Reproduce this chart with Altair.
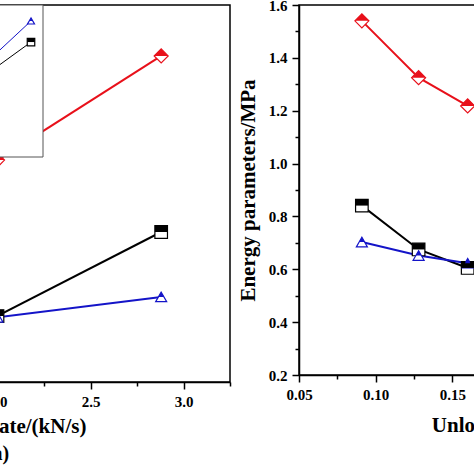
import altair as alt
import pandas as pd

# ---- series definitions -------------------------------------------------
series = ["Input energy", "Elastic energy", "Dissipated energy"]
colors = ["#E8101A", "#000000", "#1414C8"]
full_shapes = ["diamond", "square", "triangle-up"]
# upper halves of the same symbols (unit box -1..1), drawn filled on top
half_shapes = ["M-1,0L0,-1L1,0Z", "M-1,-1L1,-1L1,0L-1,0Z", "M0,-0.866L0.5,0L-0.5,0Z"]
sizes = [196, 121, 169]
inset_sizes = [64, 49, 64]

# ---- panel (a): energy vs loading rate ---------------------------------
load_rate = [2.0, 2.88]
load_input = [1.024, 1.411]
load_elastic = [0.445, 0.757]
load_dissip = [0.440, 0.516]

# inset of panel (a)
inset_rate = [2.0, 2.88]
inset_elastic = [0.637, 0.805]
inset_dissip = [0.700, 0.916]
inset_box = {"x0": [0.5], "x1": [3.12], "y0": [0.2], "y1": [1.0]}

# ---- panel (b): energy vs unloading rate -------------------------------
unload_rate = [0.091, 0.128, 0.160]
unload_input = [1.54, 1.325, 1.218]
unload_elastic = [0.841, 0.675, 0.605]
unload_dissip = [0.703, 0.652, 0.623]

# tick values (major + minor)
y_ticks = [round(0.2 + 0.1 * i, 2) for i in range(15)]
a_ticks = [round(0.75 + 0.25 * i, 2) for i in range(11)]
b_ticks = [round(0.05 + 0.025 * i, 3) for i in range(13)]

FONT = "Liberation Serif"


def long_frame(x, ys, names):
    rows = []
    for name, vals in zip(names, ys):
        for xi, yi in zip(x, vals):
            rows.append({"x": xi, "y": yi, "series": name})
    return pd.DataFrame(rows)


def minor_test(mult):
    return f"abs(datum.value*{mult} - round(datum.value*{mult})) > 0.001"


def axis(title, ticks, mult, fmt, **kw):
    test = minor_test(mult)
    return alt.Axis(
        title=title,
        values=ticks,
        labelExpr=f"{test} ? '' : format(datum.value, '{fmt}')",
        tickSize={"condition": {"test": test, "value": 4}, "value": 7},
        grid=False,
        **kw,
    )


color_scale = alt.Scale(domain=series, range=colors)
full_shape_scale = alt.Scale(domain=series, range=full_shapes)
half_shape_scale = alt.Scale(domain=series, range=half_shapes)


def series_layers(df, xenc, yenc, size_range, line_width):
    base = alt.Chart(df)
    size = alt.Size("series:N", scale=alt.Scale(domain=series, range=size_range), legend=None)
    line = base.mark_line(strokeWidth=line_width).encode(
        x=xenc, y=yenc,
        color=alt.Color("series:N", scale=color_scale, legend=None),
        order="x:Q",
    )
    outline = base.mark_point(filled=True, fill="white", strokeWidth=1.2, opacity=1).encode(
        x=xenc, y=yenc,
        stroke=alt.Stroke("series:N", scale=color_scale, legend=None),
        shape=alt.Shape("series:N", scale=full_shape_scale, legend=None),
        size=size,
    )
    half = base.mark_point(filled=True, strokeWidth=0, opacity=1).encode(
        x=xenc, y=yenc,
        fill=alt.Fill("series:N", scale=color_scale, legend=None),
        shape=alt.Shape("series:N", scale=half_shape_scale, legend=None),
        size=size,
    )
    return alt.layer(line, outline, half).resolve_scale(shape="independent")


caption = dict(orient="bottom", frame="group", fontSize=20, font=FONT,
               fontWeight="bold", offset=8)

# ---- panel (a) ----------------------------------------------------------
a_df = long_frame(load_rate, [load_input, load_elastic, load_dissip], series)
a_x = alt.X("x:Q", scale=alt.Scale(domain=[0.75, 3.25], nice=False, zero=False),
            axis=axis("Loading rate/(kN/s)", a_ticks, 2, ".1f", orient="bottom",
                      titlePadding=6))
a_y = alt.Y("y:Q", scale=alt.Scale(domain=[0.2, 1.6], nice=False, zero=False),
            axis=axis("Energy parameters/MPa", y_ticks, 5, ".1f", orient="left"))
a_main = series_layers(a_df, a_x, a_y, sizes, 2)

in_df = long_frame(inset_rate, [inset_elastic, inset_dissip], series[1:])
in_x_scale = alt.Scale(domain=[0.5, 3.12], range=[147, 278], nice=False, zero=False)
in_y_scale = alt.Scale(domain=[0.2, 1.0], range=[152, 0], nice=False, zero=False)
in_x = alt.X("x:Q", scale=in_x_scale,
             axis=alt.Axis(orient="top", offset=-152, values=[1.0, 1.5, 2.0, 2.5],
                           labels=False, domain=False, tickSize=3, tickColor="#666",
                           tickWidth=1, title=None, grid=False))
in_y = alt.Y("y:Q", scale=in_y_scale, axis=None)
box = alt.Chart(pd.DataFrame(inset_box)).mark_rect(
    fill="white", stroke="#555555", strokeWidth=1
).encode(
    x=alt.X("x0:Q", scale=in_x_scale, axis=None), x2="x1:Q",
    y=alt.Y("y0:Q", scale=in_y_scale, axis=None), y2="y1:Q",
)
a_inset = alt.layer(box, series_layers(in_df, in_x, in_y, inset_sizes, 1))

panel_a = alt.layer(a_main, a_inset).resolve_scale(
    x="independent", y="independent", size="independent"
).properties(
    width=465, height=377,
    title=alt.TitleParams("(a)", **caption),
)

# ---- panel (b) ----------------------------------------------------------
b_df = long_frame(unload_rate, [unload_input, unload_elastic, unload_dissip], series)
b_x = alt.X("x:Q", scale=alt.Scale(domain=[0.05, 0.35], nice=False, zero=False),
            axis=axis("Unloading rate/(kN/s)", b_ticks, 20, ".2f", orient="bottom",
                      titlePadding=12))
b_y = alt.Y("y:Q", scale=alt.Scale(domain=[0.2, 1.6], nice=False, zero=False),
            axis=axis("Energy parameters/MPa", y_ticks, 5, ".1f", orient="left",
                      titlePadding=10))
panel_b = series_layers(b_df, b_x, b_y, sizes, 2).properties(
    width=460, height=370,
    title=alt.TitleParams("(b)", **caption),
)

SHIFT_X = 235
SHIFT_Y = 5
chart = alt.hconcat(panel_a, panel_b, spacing=4).properties(
    autosize=alt.AutoSizeParams(type="none"),
    padding={"left": -SHIFT_X, "top": SHIFT_Y, "right": 474 + SHIFT_X, "bottom": 474 - SHIFT_Y},
).configure_view(
    stroke="black", strokeWidth=1.5,
).configure_axis(
    domainColor="black", domainWidth=1.5, tickColor="black", tickWidth=1.5,
    labelFont=FONT, labelFontWeight="bold", labelFontSize=15, labelColor="black",
    labelPadding=5, labelFlush=False, titleFont=FONT, titleFontWeight="bold",
    titleFontSize=21, titleColor="black", titlePadding=8,
)

chart.save("out.html", embed_options={"renderer": "svg", "actions": False})
